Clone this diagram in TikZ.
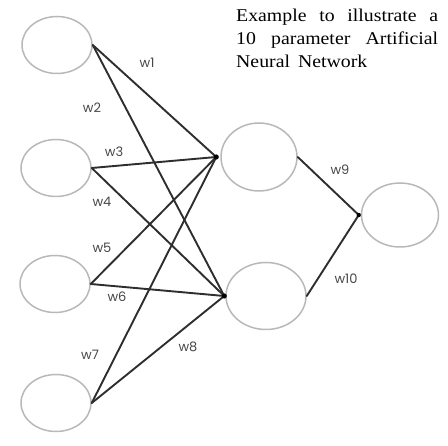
\documentclass[tikz,border=0pt]{standalone}
\usepackage{fontspec}
\setmainfont{Liberation Serif}
\newfontfamily\capfont{Liberation Serif}[FakeStretch=1.1]
\newfontfamily\wfont{Poppins}
\usetikzlibrary{shapes.geometric}

\begin{document}
\begin{tikzpicture}
     [x=1pt,y=-1pt,line cap=round,line join=round,
     %neurons are light gray ellipses
     neuron/.style={ellipse,draw=black!28,line width=1.5pt,minimum width=70pt,minimum height=57pt,inner sep=0pt},
     weight/.style={line width=1.9pt,draw=black!82},
     wlabel/.style={font=\wfont\fontsize{13}{13}\selectfont,text=black!72,inner sep=0pt}]

\useasboundingbox (0,0) rectangle (448,446);

%input layer
  \node[neuron] (in1) at (57,45) {};
  \node[neuron] (in2) at (56,168) {};
  \node[neuron] (in3) at (55,284) {};
  \node[neuron] (in4) at (56,403) {};
%hidden layer
  \node[neuron,minimum width=76pt,minimum height=68pt] (h1) at (259,157) {};
  \node[neuron,minimum width=80pt,minimum height=67pt] (h2) at (266,296) {};
%output layer
  \node[neuron,minimum width=77pt,minimum height=64pt] (out) at (400,215) {};

%joints where the weights meet
  \coordinate (j1) at ([xshift=-4pt]h1.west);
  \coordinate (j2) at ([xshift=-1pt]h2.west);
  \coordinate (j3) at ([xshift=-2pt]out.west);

%the weights
  \foreach \i in {1,...,4}{
    \draw[weight] (in\i.east) -- (j1);
    \draw[weight] (in\i.east) -- (j2);
  }
  \draw[weight] (h1.east) -- (j3);
  \draw[weight] (h2.east) -- (j3);
  \fill (j1) circle (2.6pt);
  \fill (j2) circle (2.6pt);
  \fill (j3) circle (2.2pt);

%labels of the weights
  \node[wlabel] (lw1) at (147,63) {w1};
  \node[wlabel] (lw2) at (92,108) {w2};
  \node[wlabel] (lw3) at (114,152) {w3};
  \node[wlabel] (lw4) at (102,202) {w4};
  \node[wlabel] (lw5) at (102,248) {w5};
  \node[wlabel] (lw6) at (117,297) {w6};
  \node[wlabel] (lw7) at (90,355) {w7};
  \node[wlabel] (lw8) at (188,347) {w8};
  \node[wlabel] (lw9) at (340,170) {w9};
  \node[wlabel] (lw10) at (346,279) {w10};

%caption
  \node[anchor=base west,text width=202pt,align=justify,inner sep=0pt,
        font=\capfont\fontsize{18}{23}\selectfont]
        (caption) at (236,22)
        {\spaceskip=8pt plus 14pt minus 2pt\relax\hyphenpenalty=10000\relax
         Example to illustrate a 10 parameter Artificial Neural Network};
\end{tikzpicture}
\end{document}
